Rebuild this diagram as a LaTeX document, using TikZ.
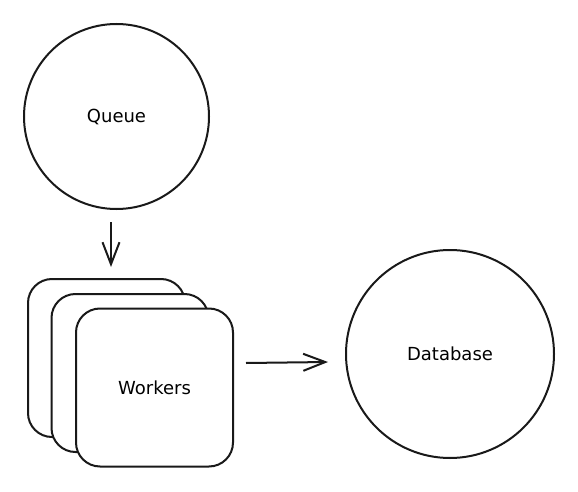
\documentclass[tikz,border=0pt]{standalone}
\usepackage{fontspec}
\setmainfont{DejaVu Sans}
\usetikzlibrary{arrows.meta}
\begin{document}
\begin{tikzpicture}[x=1pt,y=-1pt,
  ink/.style={draw=black!90, line width=2pt},
  lbl/.style={font=\fontsize{18}{20}\selectfont},
  blob/.style={ink, circle, inner sep=0pt, lbl},
  card/.style={ink, fill=white, rounded corners=24pt, minimum width=157pt, minimum height=158pt, inner sep=0pt, lbl},
  flow/.style={ink, -{Straight Barb[length=22pt,width=17pt,line width=2pt]}}]
\useasboundingbox (0,0) rectangle (578,492);
\node[blob, minimum size=185pt] (queue) at (116.5,116.5) {Queue};
\node[blob, minimum size=208pt] (db) at (450,354) {Database};
\node[card] (w3) at (106.5,358) {};
\node[card] (w2) at (130,373) {};
\node[card] (w1) at (154.5,387.5) {Workers};
\coordinate (qa) at (111,222);
\coordinate (qb) at (111,267);
\draw[flow] (qa) -- (qb);
\coordinate (wa) at (246,363);
\coordinate (wb) at (328,362);
\draw[flow] (wa) -- (wb);
\end{tikzpicture}
\end{document}
